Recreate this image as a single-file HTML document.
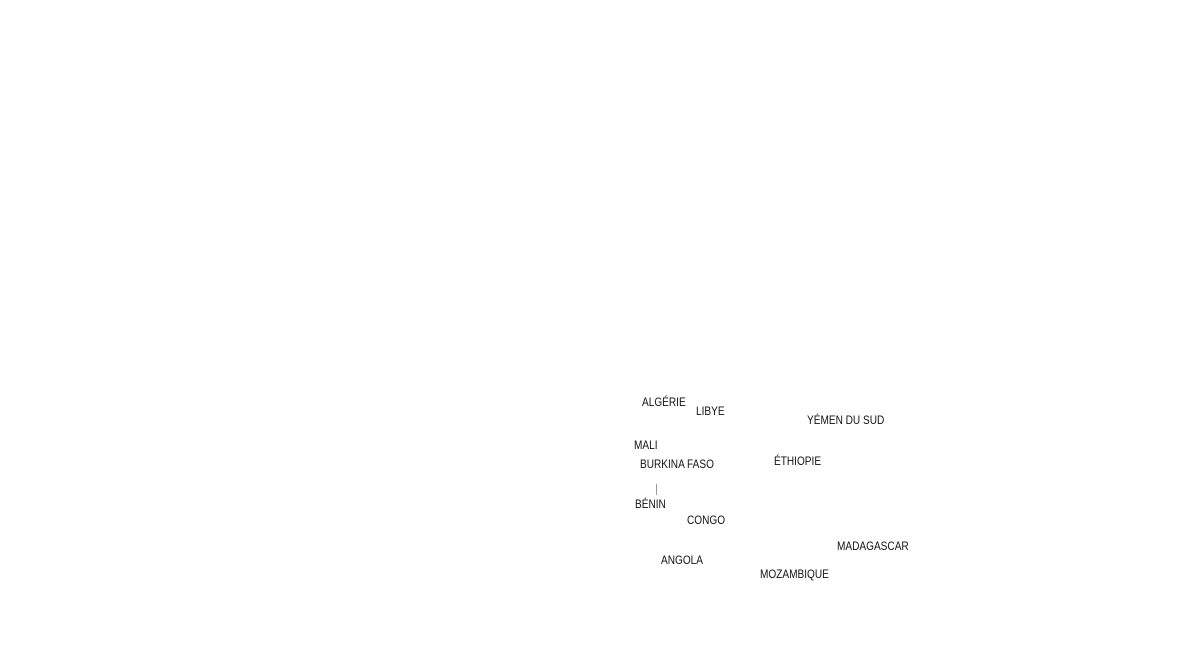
<!DOCTYPE html>
<html><head><meta charset="utf-8"><style>
html,body{margin:0;padding:0;background:#fff;}
body{width:1200px;height:672px;position:relative;overflow:hidden;font-family:"Liberation Sans",sans-serif;font-size:12px;color:#111;}
.l{position:absolute;white-space:nowrap;line-height:14px;transform:scaleX(0.84);transform-origin:0 0;}
</style></head><body>
<div class="l" style="left:642px;top:395px">ALGÉRIE</div>
<div class="l" style="left:696px;top:404px">LIBYE</div>
<div class="l" style="left:807px;top:413px">YÉMEN DU SUD</div>
<div class="l" style="left:634px;top:438px">MALI</div>
<div class="l" style="left:640px;top:457px">BURKINA FASO</div>
<div class="l" style="left:774px;top:454px">ÉTHIOPIE</div>
<div style="position:absolute;left:656px;top:484px;width:1px;height:11px;background:#999"></div>
<div class="l" style="left:635px;top:497px">BÉNIN</div>
<div class="l" style="left:687px;top:513px">CONGO</div>
<div class="l" style="left:837px;top:539px">MADAGASCAR</div>
<div class="l" style="left:661px;top:553px">ANGOLA</div>
<div class="l" style="left:760px;top:567px">MOZAMBIQUE</div>
</body></html>
